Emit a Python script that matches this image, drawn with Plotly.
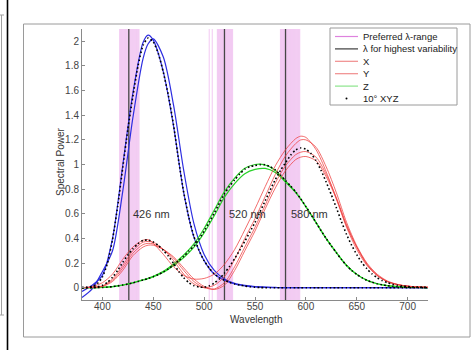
import plotly.graph_objects as go

# ---------------- data ----------------
# CIE 1964 10-degree observer (5 nm), shown as dotted reference
cie_wl = list(range(380, 725, 5))
cie_x = [0.0002, 0.0007, 0.0024, 0.0072, 0.0191, 0.0434, 0.0847, 0.1406, 0.2045, 0.2647,
         0.3147, 0.3577, 0.3837, 0.3867, 0.3707, 0.3430, 0.3023, 0.2541, 0.1956, 0.1323,
         0.0805, 0.0411, 0.0162, 0.0051, 0.0038, 0.0154, 0.0375, 0.0714, 0.1177, 0.1730,
         0.2365, 0.3042, 0.3768, 0.4516, 0.5298, 0.6161, 0.7052, 0.7938, 0.8787, 0.9512,
         1.0142, 1.0743, 1.1185, 1.1343, 1.1240, 1.0891, 1.0305, 0.9507, 0.8563, 0.7549,
         0.6475, 0.5351, 0.4316, 0.3437, 0.2683, 0.2043, 0.1526, 0.1122, 0.0813, 0.0579,
         0.0409, 0.0286, 0.0199, 0.0138, 0.0096, 0.0066, 0.0046, 0.0031, 0.0022]
cie_y = [0.0000, 0.0001, 0.0003, 0.0008, 0.0020, 0.0045, 0.0088, 0.0145, 0.0214, 0.0295,
         0.0387, 0.0496, 0.0621, 0.0747, 0.0895, 0.1063, 0.1282, 0.1528, 0.1852, 0.2199,
         0.2536, 0.2977, 0.3391, 0.3954, 0.4608, 0.5314, 0.6067, 0.6857, 0.7618, 0.8233,
         0.8752, 0.9238, 0.9620, 0.9822, 0.9918, 0.9991, 0.9973, 0.9824, 0.9556, 0.9152,
         0.8689, 0.8256, 0.7774, 0.7204, 0.6583, 0.5939, 0.5280, 0.4618, 0.3981, 0.3396,
         0.2835, 0.2283, 0.1798, 0.1402, 0.1076, 0.0812, 0.0603, 0.0441, 0.0318, 0.0226,
         0.0159, 0.0111, 0.0077, 0.0054, 0.0037, 0.0026, 0.0018, 0.0012, 0.0008]
cie_z = [0.0007, 0.0029, 0.0105, 0.0323, 0.0860, 0.1971, 0.3894, 0.6568, 0.9725, 1.2825,
         1.5535, 1.7985, 1.9673, 2.0273, 1.9948, 1.9007, 1.7454, 1.5549, 1.3176, 1.0302,
         0.7721, 0.5701, 0.4153, 0.3024, 0.2185, 0.1592, 0.1120, 0.0822, 0.0607, 0.0431,
         0.0305, 0.0206, 0.0137, 0.0079, 0.0040, 0.0011, 0.0, 0.0, 0.0, 0.0,
         0.0, 0.0, 0.0, 0.0, 0.0, 0.0, 0.0, 0.0, 0.0, 0.0,
         0.0, 0.0, 0.0, 0.0, 0.0, 0.0, 0.0, 0.0, 0.0, 0.0,
         0.0, 0.0, 0.0, 0.0, 0.0, 0.0, 0.0, 0.0, 0.0]

# individual estimated curves
wl = [380, 390, 400, 410, 420, 430, 440, 445, 450, 460, 470, 480, 490, 500, 510, 520, 530,
      540, 550, 560, 570, 580, 590, 595, 600, 610, 620, 630, 640, 650, 660, 670, 680, 690,
      700, 710, 720]

z_curve_1 = [-0.03, 0.02, 0.10, 0.40, 0.99, 1.58, 1.99, 2.05, 2.01, 1.75, 1.31, 0.77, 0.41,
             0.22, 0.11, 0.06, 0.03, 0.015, 0.006, 0.002, 0.001, 0, 0, 0, 0, 0, 0, 0, 0, 0,
             0, 0, 0, 0, 0, 0, 0]
z_curve_2 = [-0.08, -0.01, 0.13, 0.30, 0.78, 1.38, 1.86, 1.98, 2.02, 1.87, 1.48, 0.95, 0.52,
             0.27, 0.14, 0.07, 0.035, 0.018, 0.009, 0.004, 0.002, 0, 0, 0, 0, 0, 0, 0, 0, 0,
             0, 0, 0, 0, 0, 0, 0]

y_curve_1 = [0.0, 0.0003, 0.002, 0.009, 0.022, 0.040, 0.064, 0.077, 0.092, 0.133, 0.193,
             0.265, 0.355, 0.480, 0.630, 0.780, 0.890, 0.970, 1.000, 0.996, 0.952, 0.866,
             0.776, 0.720, 0.658, 0.528, 0.398, 0.284, 0.180, 0.108, 0.060, 0.032, 0.016,
             0.008, 0.004, 0.002, 0.001]
y_curve_2 = [0.0, 0.0003, 0.002, 0.009, 0.021, 0.039, 0.062, 0.074, 0.088, 0.125, 0.180,
             0.245, 0.330, 0.445, 0.585, 0.735, 0.845, 0.925, 0.960, 0.968, 0.935, 0.858,
             0.772, 0.718, 0.657, 0.528, 0.398, 0.284, 0.180, 0.108, 0.060, 0.032, 0.016,
             0.008, 0.004, 0.002, 0.001]

x_curve_1 = [0.0, 0.01, 0.04, 0.11, 0.23, 0.33, 0.385, 0.39, 0.36, 0.27, 0.17, 0.10, 0.07,
             0.075, 0.11, 0.19, 0.31, 0.47, 0.64, 0.82, 0.99, 1.12, 1.21, 1.23, 1.22, 1.12,
             0.94, 0.72, 0.49, 0.31, 0.18, 0.10, 0.05, 0.025, 0.012, 0.006, 0.003]
x_curve_2 = [0.0, 0.003, 0.015, 0.07, 0.18, 0.30, 0.37, 0.375, 0.37, 0.31, 0.22, 0.11, 0.03,
             0.0, 0.02, 0.09, 0.23, 0.40, 0.56, 0.74, 0.92, 1.07, 1.17, 1.20, 1.20, 1.14,
             0.98, 0.77, 0.53, 0.34, 0.20, 0.11, 0.055, 0.027, 0.013, 0.006, 0.003]
x_curve_3 = [0.0, 0.002, 0.012, 0.06, 0.16, 0.28, 0.35, 0.36, 0.355, 0.31, 0.24, 0.14, 0.05,
             0.0, -0.01, 0.04, 0.17, 0.33, 0.49, 0.67, 0.85, 0.99, 1.08, 1.10, 1.105, 1.06,
             0.92, 0.73, 0.51, 0.33, 0.19, 0.10, 0.05, 0.025, 0.012, 0.006, 0.003]
x_curve_4 = [0.0, 0.002, 0.01, 0.05, 0.14, 0.26, 0.33, 0.345, 0.345, 0.31, 0.25, 0.16, 0.07,
             0.01, -0.015, 0.02, 0.14, 0.30, 0.46, 0.64, 0.81, 0.95, 1.04, 1.06, 1.065, 1.03,
             0.90, 0.72, 0.50, 0.33, 0.19, 0.10, 0.05, 0.025, 0.012, 0.006, 0.003]

preferred_wl = (list(range(417, 437)) + [505, 508] + list(range(513, 529))
                + list(range(575, 595)))
highest_var_wl = [426, 520, 580]
label_wl = [448, 543, 604]
label_text = ["426 nm", "520 nm", "580 nm"]

x_ticks = [400, 450, 500, 550, 600, 650, 700]
y_ticks = [0, 0.2, 0.4, 0.6, 0.8, 1, 1.2, 1.4, 1.6, 1.8, 2]
y_tick_text = ["0", "0.2", "0.4", "0.6", "0.8", "1", "1.2", "1.4", "1.6", "1.8", "2"]

legend_labels = ["Preferred \u03bb-range", "\u03bb for highest variability", "X", "Y", "Z",
                 "10\u00b0 XYZ"]
legend_colors = ["rgb(222,130,222)", "rgb(60,60,60)", "rgb(240,140,140)",
                 "rgb(240,140,140)", "rgb(140,228,140)", "black"]

# ---------------- figure ----------------
W, H = 474, 350
L, R, T, B = 82, 428, 29, 300
FONT = "Liberation Sans, Arial, sans-serif"


def px(x):
    return (x - L) / (R - L)


def py(y):
    return (B - y) / (B - T)


fig = go.Figure()

# preferred range lines
vx, vy = [], []
for w in preferred_wl:
    vx += [w, w, None]
    vy += [-0.1, 2.1, None]
fig.add_trace(go.Scatter(x=vx, y=vy, mode="lines",
                         line=dict(color="rgba(215,90,215,0.33)", width=1),
                         hoverinfo="skip", showlegend=False))
hx, hy = [], []
for w in highest_var_wl:
    hx += [w, w, None]
    hy += [-0.1, 2.1, None]
fig.add_trace(go.Scatter(x=hx, y=hy, mode="lines",
                         line=dict(color="rgb(70,70,70)", width=1.3),
                         hoverinfo="skip", showlegend=False))

blue = "rgb(45,45,225)"
green = "rgb(40,210,40)"
red = "rgba(238,60,60,0.75)"
for ys in [z_curve_1, z_curve_2]:
    fig.add_trace(go.Scatter(x=wl, y=ys, mode="lines",
                             line=dict(color=blue, width=1.2, shape="spline", smoothing=0.8),
                             showlegend=False))
for ys in [y_curve_1, y_curve_2]:
    fig.add_trace(go.Scatter(x=wl, y=ys, mode="lines",
                             line=dict(color=green, width=1.2, shape="spline", smoothing=0.8),
                             showlegend=False))
for ys in [x_curve_1, x_curve_2, x_curve_3, x_curve_4]:
    fig.add_trace(go.Scatter(x=wl, y=ys, mode="lines",
                             line=dict(color=red, width=1, shape="spline", smoothing=0.8),
                             showlegend=False))
for ys in [cie_x, cie_y, cie_z]:
    fig.add_trace(go.Scatter(x=cie_wl, y=ys, mode="lines",
                             line=dict(color="black", width=1.6, dash="1.6px,2.4px",
                                       shape="spline", smoothing=0.6),
                             showlegend=False))

annotations = []
for xw, t in zip(label_wl, label_text):
    annotations.append(dict(x=xw, y=0.6, xref="x", yref="y", text=t, showarrow=False,
                            xanchor="center", yanchor="middle",
                            font=dict(family=FONT, size=11, color="#333")))

# axis titles
annotations.append(dict(x=px(60), y=py(162), xref="paper", yref="paper",
                        text="Spectral Power", textangle=-90, showarrow=False,
                        xanchor="center", yanchor="middle",
                        font=dict(family=FONT, size=10, color="#333")))
annotations.append(dict(x=px(256), y=py(320), xref="paper", yref="paper",
                        text="Wavelength", showarrow=False,
                        xanchor="center", yanchor="middle",
                        font=dict(family=FONT, size=10, color="#333")))

shapes = []
# outer frame
shapes.append(dict(type="rect", xref="paper", yref="paper", x0=px(23.5), x1=px(470),
                   y0=py(337), y1=py(24), line=dict(color="#9a9a9a", width=1)))
# left remnants of neighbouring panel
shapes.append(dict(type="line", xref="paper", yref="paper", x0=px(1.5), x1=px(1.5),
                   y0=py(315), y1=py(15), line=dict(color="#a0a0a0", width=1)))
shapes.append(dict(type="line", xref="paper", yref="paper", x0=px(0), x1=px(4),
                   y0=py(15), y1=py(15), line=dict(color="#a0a0a0", width=1)))
shapes.append(dict(type="line", xref="paper", yref="paper", x0=px(0), x1=px(4),
                   y0=py(315), y1=py(315), line=dict(color="#a0a0a0", width=1)))
shapes.append(dict(type="line", xref="paper", yref="paper", x0=px(7.5), x1=px(7.5),
                   y0=py(350), y1=py(0), line=dict(color="black", width=1.6)))

# legend box
shapes.append(dict(type="rect", xref="paper", yref="paper", x0=px(330), x1=px(457),
                   y0=py(105), y1=py(28), line=dict(color="#9a9a9a", width=1),
                   fillcolor="white", layer="above"))
for i, (lab, col) in enumerate(zip(legend_labels, legend_colors)):
    yy = 36.5 + i * 12.4
    if i < 5:
        shapes.append(dict(type="line", xref="paper", yref="paper", x0=px(335), x1=px(358),
                           y0=py(yy), y1=py(yy), line=dict(color=col, width=1.2),
                           layer="above"))
    else:
        shapes.append(dict(type="circle", xref="paper", yref="paper", x0=px(345.5),
                           x1=px(347.5), y0=py(yy + 1), y1=py(yy - 1),
                           fillcolor="black", line=dict(color="black", width=0),
                           layer="above"))
    annotations.append(dict(x=px(361), y=py(yy), xref="paper", yref="paper", text=lab,
                            showarrow=False, xanchor="left", yanchor="middle",
                            font=dict(family=FONT, size=9.5, color="#222")))

axis_common = dict(showgrid=False, zeroline=False, showline=True, linecolor="#8a8a8a",
                   linewidth=1, ticks="inside", ticklen=3, tickcolor="#8a8a8a",
                   tickfont=dict(family=FONT, size=10, color="#444"))

fig.update_layout(
    width=W, height=H,
    margin=dict(l=L, r=W - R, t=T, b=H - B),
    plot_bgcolor="white", paper_bgcolor="white",
    showlegend=False,
    xaxis=dict(range=[380, 720], tickvals=x_ticks, ticklabelstandoff=-3, **axis_common),
    yaxis=dict(range=[-0.1, 2.1], tickvals=y_ticks, ticktext=y_tick_text, **axis_common),
    annotations=annotations,
    shapes=shapes,
)

fig.write_html("out.html")
